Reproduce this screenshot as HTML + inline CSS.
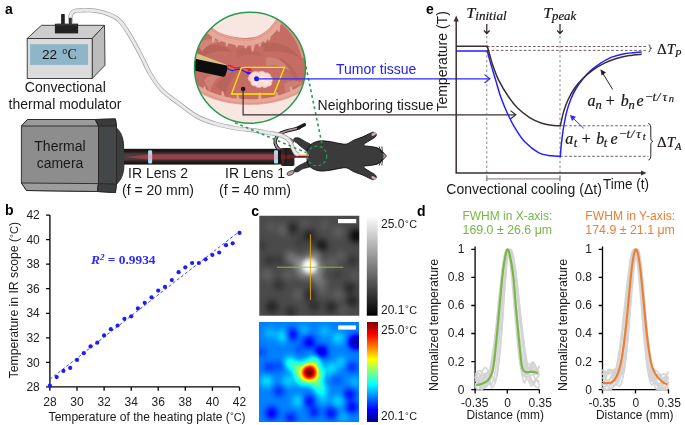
<!DOCTYPE html>
<html><head><meta charset="utf-8"><title>Figure</title>
<style>
html,body{margin:0;padding:0;background:#fff;}
body{width:685px;height:425px;overflow:hidden;}
svg{display:block;}
text{font-family:'Liberation Sans',sans-serif;}
text.sf, .sf{font-family:'Liberation Serif',serif;}
</style></head><body>
<svg width="685" height="425" viewBox="0 0 685 425">
<rect width="685" height="425" fill="#fff"/>
<g id="panelA">
<text x="5" y="13.8" font-size="14" text-anchor="start" fill="#000" font-weight="bold">a</text>
<polygon points="27.2,38.5 41.4,25.3 104.5,25.3 92.2,38.5" fill="#cdcdcd" stroke="#333" stroke-width="0.9" stroke-linejoin="round"/>
<polygon points="92.2,38.5 104.5,25.3 105,65.3 92.2,78.5" fill="#bcbcbc" stroke="#333" stroke-width="0.9" stroke-linejoin="round"/>
<rect x="27.2" y="38.5" width="65" height="40" fill="#dbdbdb" stroke="#333" stroke-width="0.9"/>
<rect x="30.1" y="44.2" width="58" height="20.7" fill="#8fb5c9"/>
<text x="42" y="58.7" font-size="13.6" fill="#111">22<tspan class="sf" font-size="14" x="62">°C</tspan></text>
<text x="65.3" y="91.6" font-size="14" text-anchor="middle" fill="#1a1a1a">Convectional</text>
<text x="65" y="108.5" font-size="14" text-anchor="middle" fill="#1a1a1a">thermal modulator</text>
<polygon points="21.4,126 27.5,119.5 95.3,119.5 98.5,126 98.5,183.6 97.4,191.5 26.5,190.5 21.4,183" fill="#8d8d8d" stroke="#2a2424" stroke-width="0.9" stroke-linejoin="round"/>
<polygon points="21.4,126 27.5,119.5 95.3,119.5 98.5,126" fill="#9b9b9b" stroke="#2a2424" stroke-width="0.9" stroke-linejoin="round"/>
<polygon points="21.4,183 26.5,190.5 97.4,191.5 98.5,183.6" fill="#9d9d9d" stroke="#2a2424" stroke-width="0.9" stroke-linejoin="round"/>
<path d="M116.5,128 C121,132 123.4,138 123.6,146 L123.9,166 C123.8,174 121,180 116.5,184.2 Z" fill="#3a3e3e" stroke="#2a2424" stroke-width="0.9" stroke-linejoin="round"/>
<polygon points="95.3,119.5 115.4,118.9 116.5,126 116.5,184.1 115.4,192.6 97.4,191.5 98.5,183.6 98.5,126" fill="#434747" stroke="#2a2424" stroke-width="0.9" stroke-linejoin="round"/>
<polygon points="95.3,119.5 115.4,118.9 116.5,126 98.5,126" fill="#383c3c" stroke="#2a2424" stroke-width="0.9" stroke-linejoin="round"/>
<polygon points="98.5,183.6 116.5,184.1 115.4,192.6 97.4,191.5" fill="#3b3f3f" stroke="#2a2424" stroke-width="0.9" stroke-linejoin="round"/>
<text x="60" y="150.5" font-size="14" text-anchor="middle" fill="#1a1a1a">Thermal</text>
<text x="60" y="167.5" font-size="14" text-anchor="middle" fill="#1a1a1a">camera</text>
<defs><linearGradient id="tubeg" x1="0" y1="0" x2="0" y2="1"><stop offset="0" stop-color="#1c1212"/><stop offset="0.16" stop-color="#231818"/><stop offset="0.34" stop-color="#4a3c3c"/><stop offset="0.5" stop-color="#4a3c3c"/><stop offset="0.66" stop-color="#4a3c3c"/><stop offset="0.84" stop-color="#231818"/><stop offset="1" stop-color="#1c1212"/></linearGradient></defs>
<rect x="124" y="148.8" width="154" height="15.8" fill="url(#tubeg)"/>
<polygon points="125.5,156.9 148,154.5 148,159.4 " fill="#96404a"/>
<rect x="148" y="154.4" width="130" height="5" fill="#96404a"/>
<rect x="148.1" y="150.3" width="4" height="13.3" rx="1.3" fill="#a9dcf2"/>
<rect x="148.1" y="154.4" width="4" height="5" fill="#dcb4c2"/>
<rect x="274" y="150.3" width="4.3" height="13.3" rx="1.3" fill="#a9dcf2"/>
<rect x="274" y="154.4" width="4.3" height="5" fill="#dcb4c2"/>
<path d="M288.9,151.8 C287.6,151.6 283.3,151.5 281.3,150.6 C279.2,149.8 277.6,148.2 276.5,146.5 C275.5,144.8 274.8,142.4 275.2,140.4 C275.6,138.4 277.0,135.9 279.0,134.3 C281.0,132.7 284.1,131.9 287.0,130.9 C289.9,130.0 293.6,129.6 296.5,128.6 C299.4,127.6 303.1,125.5 304.4,124.8" fill="none" stroke="#1c1c1c" stroke-width="3.4" stroke-linecap="round"/>
<path d="M288.9,151.8 C287.6,151.6 283.3,151.5 281.3,150.6 C279.2,149.8 277.6,148.2 276.5,146.5 C275.5,144.8 274.8,142.4 275.2,140.4 C275.6,138.4 277.0,135.9 279.0,134.3 C281.0,132.7 284.1,131.9 287.0,130.9 C289.9,130.0 294.9,129.0 296.5,128.6" fill="none" stroke="#a9959a" stroke-width="1.5" stroke-linecap="round"/>
<polygon points="296.5,127.5 304.4,124.5 299.3,129.8" fill="#1c1c1c"/>
<path d="M311.5,145.4 C310.8,143.7 307.0,142.6 305.0,141.4 C302.9,140.1 300.8,138.7 299.1,138.1 C297.5,137.6 296.1,137.5 295.2,137.8 C294.3,138.2 293.3,139.2 293.7,140.2 C294.1,141.2 296.2,142.4 297.7,143.7 C299.2,145.0 300.8,146.7 302.8,148.1 C304.7,149.5 307.9,152.4 309.3,152.0 C310.8,151.6 312.3,147.2 311.5,145.4 Z" fill="#3a3a3a" stroke="#111" stroke-width="0.7"/>
<ellipse cx="290.4" cy="140.6" rx="3.6" ry="1.9" transform="rotate(28 290.4 140.6)" fill="#b5a2a6" stroke="#222" stroke-width="0.7"/>
<path d="M310.1,160.0 C309.1,159.4 307.4,161.4 305.7,162.2 C304.0,163.1 301.7,164.1 299.9,165.1 C298.0,166.2 295.7,167.7 294.7,168.8 C293.8,169.8 293.8,170.9 294.3,171.4 C294.8,171.9 296.3,172.2 297.7,171.7 C299.1,171.3 300.5,169.8 302.8,168.8 C305.1,167.8 310.3,167.3 311.5,165.9 C312.7,164.4 311.0,160.6 310.1,160.0 Z" fill="#3a3a3a" stroke="#111" stroke-width="0.7"/>
<ellipse cx="290.6" cy="173" rx="3.8" ry="2" transform="rotate(-24 290.6 173)" fill="#b5a2a6" stroke="#222" stroke-width="0.7"/>
<path d="M307.3,155.0 C307.3,153.1 306.7,152.0 307.3,150.3 C307.8,148.5 308.7,146.1 310.7,144.6 C312.7,143.0 315.9,141.4 319.2,141.0 C322.6,140.5 327.1,141.3 330.6,141.7 C334.1,142.2 337.4,143.2 340.1,143.6 C342.8,144.0 344.5,144.5 346.7,144.0 C349.0,143.5 350.7,141.6 353.4,140.4 C356.1,139.2 360.2,137.9 362.9,136.8 C365.6,135.6 367.8,134.3 369.5,133.6 C371.3,132.8 372.2,132.2 373.3,132.2 C374.4,132.3 375.8,133.1 376.2,133.9 C376.5,134.7 376.2,136.0 375.2,137.0 C374.3,138.0 372.2,138.9 370.5,140.0 C368.7,141.1 365.8,142.7 364.8,143.6 C363.7,144.6 363.1,145.2 364.0,145.7 C365.0,146.2 368.4,146.1 370.5,146.5 C372.6,146.8 375.0,147.1 376.5,147.6 C378.1,148.1 378.8,148.6 380.0,149.5 C381.2,150.4 382.7,152.0 383.7,153.1 C384.8,154.2 386.2,155.0 386.2,156.0 C386.2,156.9 384.8,157.7 383.7,158.8 C382.7,159.9 381.2,161.5 380.0,162.4 C378.8,163.3 378.1,163.8 376.5,164.3 C375.0,164.8 372.6,165.1 370.5,165.4 C368.4,165.8 365.0,165.7 364.0,166.2 C363.1,166.7 363.7,167.3 364.8,168.3 C365.8,169.2 368.7,170.8 370.5,171.9 C372.2,173.0 374.3,173.9 375.2,174.9 C376.2,175.9 376.5,177.2 376.2,178.0 C375.8,178.8 374.4,179.6 373.3,179.7 C372.2,179.7 371.3,179.1 369.5,178.3 C367.8,177.6 365.6,176.3 362.9,175.1 C360.2,174.0 356.1,172.7 353.4,171.5 C350.7,170.3 349.0,168.4 346.7,167.9 C344.5,167.4 342.8,167.9 340.1,168.3 C337.4,168.7 334.1,169.7 330.6,170.2 C327.1,170.6 322.6,171.4 319.2,170.9 C315.9,170.5 312.7,168.9 310.7,167.3 C308.7,165.8 307.8,163.7 307.3,161.6 C306.7,159.6 307.3,156.9 307.3,155.0 Z" fill="#3b3b3b" stroke="#0c0c0c" stroke-width="0.9" stroke-linejoin="round"/>
<ellipse cx="373.8" cy="134" rx="2.7" ry="1.5" transform="rotate(-30 373.8 134)" fill="#d2a9b0"/>
<ellipse cx="373.8" cy="178" rx="2.7" ry="1.5" transform="rotate(30 373.8 178)" fill="#d2a9b0"/>
<path d="M382.8,153.4 C384.6,154.2 385.7,155.2 385.9,156 C385.7,156.8 384.6,157.8 382.8,158.6 C383.8,157 383.8,155 382.8,153.4 Z" fill="#c79aa2"/>
<path d="M379,146.4 L382,153 M381.8,146.4 L382.6,152.6 M379,165.6 L382,159 M381.8,165.6 L382.6,159.4" stroke="#111" stroke-width="0.8" fill="none"/>
<path d="M375.6,147.8 C377.6,147.6 379,149 378.6,150.6 M375.6,164.2 C377.6,164.4 379,163 378.6,161.4" stroke="#111" stroke-width="0.6" fill="none"/>
<rect x="278" y="149.4" width="4" height="15" fill="#1e1414"/>
<rect x="294" y="155.4" width="15.6" height="2.4" fill="#7a1c22"/>
<rect x="298" y="154.4" width="11" height="1.3" fill="#dcc878"/>
<rect x="281" y="148" width="13.4" height="17.9" rx="1.3" fill="#2c2020"/>
<polygon points="281,154.2 294.4,155.2 294.4,158 281,159.8" fill="#6e2226"/>
<rect x="282.4" y="148" width="0.9" height="17.9" fill="#4a3838"/>
<rect x="285.6" y="148" width="0.7" height="17.9" fill="#1a1010"/>
<path d="M70.5,23.0 C70.5,21.7 70.2,17.0 70.8,15.0 C71.4,13.0 72.1,12.0 74.0,11.2 C75.9,10.4 78.5,10.5 82.0,10.4 C85.5,10.3 90.3,9.9 95.0,10.6 C99.7,11.3 105.9,13.0 110.0,14.7 C114.1,16.4 116.3,17.5 119.4,20.6 C122.5,23.7 125.3,27.8 128.8,33.5 C132.3,39.2 137.1,48.0 140.6,54.7 C144.1,61.4 146.5,67.6 150.0,73.5 C153.5,79.4 157.1,85.1 161.8,90.0 C166.5,94.9 172.3,98.6 178.2,103.0 C184.1,107.4 190.9,113.1 197.0,116.5 C203.1,119.9 208.8,121.6 215.0,123.5 C221.2,125.4 227.9,126.8 234.5,128.0 C241.1,129.2 248.8,129.7 254.6,130.5 C260.4,131.3 265.1,132.3 269.2,133.0 C273.3,133.7 276.5,134.1 279.4,134.9 C282.3,135.8 284.9,136.8 286.7,138.1 C288.5,139.4 289.4,140.9 290.4,142.5 C291.4,144.1 291.8,145.9 292.6,147.6 C293.4,149.3 294.2,151.5 295.2,152.7 C296.2,153.9 297.9,154.5 298.4,154.9" fill="none" stroke="#a2a2a2" stroke-width="4.3" stroke-linecap="butt"/>
<path d="M70.5,23.0 C70.5,21.7 70.2,17.0 70.8,15.0 C71.4,13.0 72.1,12.0 74.0,11.2 C75.9,10.4 78.5,10.5 82.0,10.4 C85.5,10.3 90.3,9.9 95.0,10.6 C99.7,11.3 105.9,13.0 110.0,14.7 C114.1,16.4 116.3,17.5 119.4,20.6 C122.5,23.7 125.3,27.8 128.8,33.5 C132.3,39.2 137.1,48.0 140.6,54.7 C144.1,61.4 146.5,67.6 150.0,73.5 C153.5,79.4 157.1,85.1 161.8,90.0 C166.5,94.9 172.3,98.6 178.2,103.0 C184.1,107.4 190.9,113.1 197.0,116.5 C203.1,119.9 208.8,121.6 215.0,123.5 C221.2,125.4 227.9,126.8 234.5,128.0 C241.1,129.2 248.8,129.7 254.6,130.5 C260.4,131.3 265.1,132.3 269.2,133.0 C273.3,133.7 276.5,134.1 279.4,134.9 C282.3,135.8 284.9,136.8 286.7,138.1 C288.5,139.4 289.4,140.9 290.4,142.5 C291.4,144.1 291.8,145.9 292.6,147.6 C293.4,149.3 294.2,151.5 295.2,152.7 C296.2,153.9 297.9,154.5 298.4,154.9" fill="none" stroke="#e9e9e9" stroke-width="2.9" stroke-linecap="butt"/>
<rect x="61.1" y="14" width="3.7" height="11" rx="0.6" fill="#222"/>
<rect x="69" y="17.8" width="2.8" height="7" fill="#333"/>
<rect x="54.9" y="23.8" width="23.2" height="9.6" fill="#222"/>
<polygon points="54.9,25.6 57,23.8 78.1,23.8 76.4,25.6" fill="#383838"/>
<clipPath id="cclip"><circle cx="250" cy="67.7" r="55.5"/></clipPath>
<g clip-path="url(#cclip)">
<rect x="190" y="8" width="125" height="120" fill="#c56d62"/>
<path d="M196,50 C210,42 224,44 232,52 C224,50 212,50 200,58 Z" fill="#b8625a"/>
<path d="M215,86 C222,76 232,70 240,70 C233,76 228,84 226,94 Z" fill="#b9645b"/>
<path d="M262,44 C276,40 292,46 300,58 C290,52 276,50 264,52 Z" fill="#b9645b"/>
<path d="M280,58 C290,62 298,72 300,84 C294,76 286,70 278,66 Z" fill="#bb665d"/>
<path d="M236,50 C246,46 256,48 262,56 C254,54 244,54 238,58 Z" fill="#bc675e"/>
<path d="M198,44 C204,38 214,38 220,42 C212,42 206,46 202,52 Z" fill="#d38479"/>
<path d="M266,58 C276,56 286,62 290,72 C284,66 274,64 266,66 Z" fill="#d08176"/>
<path d="M204,80 C210,74 218,72 224,74 C216,78 212,84 210,92 Z" fill="#d08176"/>
<path d="M284,84 C290,80 298,80 304,84 C298,84 290,88 286,94 Z" fill="#cf8075"/>
<path d="M209,30 C217,37 231,41.8 245,42.3 C259,42.8 270,36 279.5,20.5" fill="none" stroke="#e6a698" stroke-width="7"/>
<path d="M212.6,36 l0.4,6 l1.6,-4.6 M219,38.5 l0.4,3 l1.4,-2 M226.2,41 l0.5,4.6 l1.5,-3.6 M236,44 l0.4,2.6 l1.4,-2.4 M245,44.5 l0.6,3.2 l1.4,-3.2 M251.8,44.5 l0.8,6.5 l1.5,-7 M259,43.4 l0.6,2.4 l1.2,-3 M264.6,40 l0.6,2 l1.2,-3 M268.2,38 l0.8,1.8 l1,-3 M277.4,28 l1.6,3 l0.4,-5" fill="none" stroke="#e6a698" stroke-width="1.7" stroke-linejoin="round"/>
<path d="M190,0 L211.5,27 C218,33.5 231,37.6 245,38 C258,38.4 268,32.5 276.6,18.5 L290,0 Z" fill="#f8e6e0"/>
<path d="M210.3,28.6 C217.5,35.4 231,39.8 245,40.2 C258.5,40.6 269,34.4 278.2,19.6" fill="none" stroke="#d98c80" stroke-width="0.7"/>
<path d="M281,22 C292,30 300,44 303,58" fill="none" stroke="#dd9489" stroke-width="2.2"/>
<path d="M190,83 C205,96.5 228,102.4 250,102.4 C272,102.4 294,96.5 312,81" fill="none" stroke="#e6a698" stroke-width="6.4"/>
<path d="M204,91.5 l0.4,-4.5 l1.6,4.8 M222,97.5 l0.6,-5.6 l1.5,5.6 M237,99.8 l0.6,-4.6 l1.4,4.6 M259,99.8 l0.6,-6.6 l1.4,6.6 M276,97.5 l0.4,-4.6 l1.6,4 M291,92 l-0.4,-4.6 l2,3.6" fill="none" stroke="#e6a698" stroke-width="1.6" stroke-linejoin="round"/>
<path d="M188,85 C205,99.3 228,105 250,105 C272,105 296,99.3 314,83 L314,130 L188,130 Z" fill="#f8e6e0"/>
<path d="M190,84 C206,97.6 228,103.4 250,103.4 C272,103.4 295,97.6 312,82" fill="none" stroke="#d98c80" stroke-width="0.7"/>
<polygon points="193,52 198.5,54 226,64.4 226,66 195,60" fill="#d9c283"/>
<path d="M192,58.2 L225.6,65.3 C227.6,66 227.8,68 227.2,70 L225.6,75 C225,76.6 223.6,77 222,76.6 L192,70 Z" fill="#0d0d0d"/>
<path d="M227.6,66.2 C229.5,64.4 231.5,66.6 234,67.6 C237.5,69 240,66.4 243.5,67.2 C246.5,68 248,69.4 250.5,70" fill="none" stroke="#ee1c1c" stroke-width="1.2"/>
<polygon points="249,67.2 252.4,70.6 248,71.4" fill="#ee1c1c"/>
<path d="M227.6,68.4 C230,70.6 232.5,71.2 235.5,69.8 C239,68.2 242,69.6 244.6,71.6 C246.4,73 248,73.2 250,73.2" fill="none" stroke="#1d1dff" stroke-width="1.2"/>
<polygon points="247.4,71.4 250.8,72.2 250,74.6 246.8,74.2" fill="#1d1dff"/>
<path d="M251,74 C252.5,71.5 256,71 258.5,72.2 C260.5,70.8 264,71 265.5,73 C268,72.4 270.6,74 270.6,76.4 C273,77.4 273.4,80.4 271.6,82 C272.6,84.4 270.4,86.6 268,86 C266.6,88 263.4,88 262,86.4 C260,88.2 256.4,88 255.4,85.8 C252.6,86.4 250.4,84.4 251,82 C248.4,81 247.4,78 249,76.2 C249.2,75 250,74.2 251,74 Z" fill="#fbdad6" stroke="#f0b5ae" stroke-width="0.8"/>
<circle cx="262" cy="79" r="2.6" fill="#fdeeee"/><circle cx="256" cy="83" r="2" fill="#fdeeee"/><circle cx="266.5" cy="82.5" r="2" fill="#fdecea"/>
</g>
<circle cx="250" cy="67.7" r="55.5" fill="none" stroke="#2a9a52" stroke-width="1.5"/>
<polygon points="241.5,67.3 284.5,67.3 274,94 231.5,94" fill="none" stroke="#ffe800" stroke-width="1.3" stroke-linejoin="miter"/>
<path d="M235,122.8 L306,152.5" fill="none" stroke="#2a9a52" stroke-width="1.6" stroke-dasharray="2.8,3"/>
<path d="M304.8,61 L322.5,146.5" fill="none" stroke="#2a9a52" stroke-width="1.6" stroke-dasharray="2.8,3"/>
<circle cx="317" cy="156" r="9.8" fill="none" stroke="#2a9a52" stroke-width="1.2" stroke-dasharray="3,2.4"/>
<circle cx="256.5" cy="78.8" r="2.5" fill="#1515ff"/>
<path d="M256.5,78.8 L489.5,78.8" stroke="#2a2aff" stroke-width="1.2" fill="none"/>
<path d="M484.5,74.6 L489.8,78.8 L484.5,83" stroke="#2a2aff" stroke-width="1.2" fill="none"/>
<circle cx="243.1" cy="89" r="2.3" fill="#1a1212"/>
<path d="M243.1,89 L243.1,114.8 L515.5,114.8" stroke="#3a3030" stroke-width="1.2" fill="none"/>
<path d="M510.5,110.6 L515.8,114.8 L510.5,119" stroke="#3a3030" stroke-width="1.2" fill="none"/>
<text x="336" y="73.8" font-size="14" text-anchor="start" fill="#2222ee">Tumor tissue</text>
<text x="317.6" y="109.8" font-size="14" text-anchor="start" fill="#1a1a1a">Neighboring tissue</text>
<text x="128" y="177.5" font-size="14" text-anchor="start" fill="#1a1a1a">IR Lens 2</text>
<text x="122" y="194.5" font-size="14" text-anchor="start" fill="#1a1a1a">(f = 20 mm)</text>
<text x="225" y="177.5" font-size="14" text-anchor="start" fill="#1a1a1a">IR Lens 1</text>
<text x="219" y="194.5" font-size="14" text-anchor="start" fill="#1a1a1a">(f = 40 mm)</text>
</g>
<g id="panelE">
<text x="426" y="13.7" font-size="14" text-anchor="start" fill="#000" font-weight="bold">e</text>
<path d="M486.8,36 L486.8,181 M560,36 L560,181" stroke="#807878" stroke-width="0.9" stroke-dasharray="2.4,2.4" fill="none"/>
<path d="M487,46.5 L646,46.5 M487,50.4 L646,50.4 M560,125.8 L648.4,125.8 M560,156.3 L648.4,156.3" stroke="#655858" stroke-width="0.95" stroke-dasharray="2.7,1.9" fill="none"/>
<path d="M456.2,20 L456.2,173 L641,173" stroke="#3a3030" stroke-width="1.5" fill="none"/>
<polygon points="453.6,21.6 456.2,15.6 458.8,21.6" fill="#3a3030"/>
<polygon points="641,170.5 646.5,173 641,175.5" fill="#3a3030"/>
<path d="M456.2,50.9 L487.3,50.9 L487.3,50.9 C487.6,52.0 488.3,55.0 489.0,57.5 C489.7,60.0 490.2,61.7 491.3,65.6 C492.4,69.5 494.4,75.8 495.9,80.9 C497.4,86.0 498.7,91.1 500.5,96.2 C502.3,101.3 504.3,106.4 506.6,111.5 C508.9,116.6 511.2,121.7 514.3,126.8 C517.4,131.9 520.9,137.8 525.0,142.1 C529.1,146.4 534.5,150.5 538.8,152.8 C543.1,155.1 547.4,155.2 551.0,155.8 C554.6,156.4 558.8,156.3 560.3,156.4 L560.3,156.4 C560.5,154.0 561.0,146.8 561.6,141.9 C562.2,137.0 562.8,131.8 563.7,126.7 C564.6,121.6 565.6,116.0 566.8,111.4 C568.0,106.8 569.3,103.0 570.8,99.2 C572.3,95.4 574.0,91.9 576.0,88.5 C578.0,85.1 580.5,81.8 583.0,78.7 C585.5,75.6 588.3,72.7 591.2,70.1 C594.1,67.5 597.1,65.4 600.4,63.3 C603.7,61.2 607.3,58.9 611.1,57.4 C614.9,55.9 618.2,54.9 623.3,54.0 C628.4,53.1 638.6,52.4 641.7,52.1" stroke="#2222ff" stroke-width="1.5" fill="none" stroke-linejoin="miter"/>
<path d="M456.2,46.3 L487.3,46.3 L487.3,46.3 C487.7,47.7 488.7,51.3 489.6,54.5 C490.5,57.7 491.3,61.2 492.9,65.6 C494.5,70.0 496.4,75.8 499.0,80.9 C501.6,86.0 505.1,91.7 508.2,96.2 C511.2,100.7 513.7,104.2 517.3,107.8 C520.9,111.4 525.5,115.0 529.6,117.6 C533.7,120.2 537.7,121.9 541.8,123.2 C545.9,124.5 550.9,125.1 554.0,125.5 C557.1,125.9 559.2,125.8 560.3,125.8 L560.3,125.8 C560.9,123.4 562.4,115.8 563.7,111.4 C565.0,107.0 566.5,103.0 568.3,99.2 C570.1,95.4 572.1,91.8 574.4,88.5 C576.7,85.2 579.0,82.4 582.1,79.3 C585.2,76.2 589.0,72.8 592.8,70.1 C596.6,67.4 600.9,64.9 605.0,62.9 C609.1,60.9 613.1,59.4 617.2,58.2 C621.3,57.0 625.3,56.2 629.4,55.6 C633.5,55.0 639.7,54.5 641.7,54.3" stroke="#3a2e2e" stroke-width="1.5" fill="none" stroke-linejoin="miter"/>
<path d="M486.8,176.6 L486.8,181 M486.8,178.9 L560,178.9 M560,176.6 L560,181" stroke="#7a7070" stroke-width="1" fill="none"/>
<path d="M486.8,24 L486.8,33.5 M484.0,30.5 L486.8,33.5 L489.6,30.5" stroke="#2a2020" stroke-width="1.2" fill="none"/>
<path d="M560,24 L560,33.5 M557.2,30.5 L560,33.5 L562.8,30.5" stroke="#2a2020" stroke-width="1.2" fill="none"/>
<path d="M612.6,89.4 L602,72" stroke="#2a2020" stroke-width="1" fill="none"/><polygon points="600.4,69.2 606,72.6 601.6,75.4" fill="#2a2020"/>
<path d="M583.6,128.2 L571.6,116.8" stroke="#2a2aff" stroke-width="1" fill="none"/><polygon points="569.9,115 576,116.8 572,121" fill="#2a2aff"/>
<path d="M648.6,44.8 C650.3,45 650,46.4 650,47.2 C650,48 650.6,48.3 651.5,48.3 C650.6,48.3 650,48.7 650,49.4 C650,50.2 650.3,51.6 648.6,51.8" stroke="#2a2020" stroke-width="0.9" fill="none"/>
<path d="M648.4,123.5 C650.6,124 650.8,126 650.8,129 L650.8,137.5 C650.8,140 651.4,141.2 653,141.4 C651.4,141.6 650.8,143 650.8,145.5 L650.8,154.5 C650.8,157.5 650.6,159.4 648.4,160" stroke="#2a2020" stroke-width="1" fill="none"/>
<text x="466.2" y="17.8" font-size="15.5" class="sf" font-style="italic" fill="#1a1414" stroke="#1a1414" stroke-width="0.2" textLength="40.4" lengthAdjust="spacingAndGlyphs">T<tspan font-size="12.5" dy="2.6">initial</tspan></text>
<text x="543.2" y="17.8" font-size="15.5" class="sf" font-style="italic" fill="#1a1414" stroke="#1a1414" stroke-width="0.2" textLength="33" lengthAdjust="spacingAndGlyphs">T<tspan font-size="12.5" dy="2.6">peak</tspan></text>
<text x="657" y="54" font-size="15" class="sf" font-style="italic" fill="#1a1414" stroke="#1a1414" stroke-width="0.2"><tspan font-style="normal">Δ</tspan>T<tspan font-size="10.5" dy="3">P</tspan></text>
<text x="657" y="146.5" font-size="15" class="sf" font-style="italic" fill="#1a1414" stroke="#1a1414" stroke-width="0.2"><tspan font-style="normal">Δ</tspan>T<tspan font-size="10.5" dy="3">A</tspan></text>
<text class="sf" font-style="italic" fill="#1a1414" stroke="#1a1414" stroke-width="0.2"><tspan x="587.6" y="106.4" font-size="16">a</tspan><tspan x="595.4" y="109.2" font-size="12.5">n</tspan><tspan x="604.8" y="106.4" font-size="16">+</tspan><tspan x="620.8" y="106.4" font-size="16">b</tspan><tspan x="628.4" y="109.2" font-size="12.5">n</tspan><tspan x="636.4" y="106.4" font-size="16">e</tspan><tspan x="644.4" y="100.80000000000001" font-size="13">−</tspan><tspan x="652.4" y="100.80000000000001" font-size="13">t</tspan><tspan x="656.8" y="100.80000000000001" font-size="13">/</tspan><tspan x="662.4" y="100.80000000000001" font-size="13">τ</tspan><tspan x="668.8" y="102.4" font-size="10.5">n</tspan></text>
<text class="sf" font-style="italic" fill="#1a1414" stroke="#1a1414" stroke-width="0.2"><tspan x="565.3" y="143.7" font-size="16">a</tspan><tspan x="573.7" y="146.5" font-size="12.5">t</tspan><tspan x="580.7" y="143.7" font-size="16">+</tspan><tspan x="596.3" y="143.7" font-size="16">b</tspan><tspan x="603.8" y="146.5" font-size="12.5">t</tspan><tspan x="610.4" y="143.7" font-size="16">e</tspan><tspan x="618.4" y="138.1" font-size="13">−</tspan><tspan x="626.4" y="138.1" font-size="13">t</tspan><tspan x="630.8" y="138.1" font-size="13">/</tspan><tspan x="636.2" y="138.1" font-size="13">τ</tspan><tspan x="642.8" y="139.7" font-size="10.5">t</tspan></text>
<text transform="translate(447.3,61.4) rotate(-90)" font-size="14.2" text-anchor="middle" fill="#1a1a1a" textLength="100.4" lengthAdjust="spacingAndGlyphs">Temperature (T)</text>
<text x="446.3" y="194" font-size="14" text-anchor="start" fill="#1a1a1a" textLength="155.5" lengthAdjust="spacingAndGlyphs">Convectional cooling (Δt)</text>
<text x="603" y="189" font-size="14.2" text-anchor="start" fill="#1a1a1a" textLength="46" lengthAdjust="spacingAndGlyphs">Time (t)</text>
</g>
<g id="panelB">
<text x="5" y="215.4" font-size="14" text-anchor="start" fill="#000" font-weight="bold">b</text>
<path d="M49.9,215.1 L49.9,386.9 L239.5,386.9 M46.1,386.9 L49.9,386.9 M49.9,386.9 L49.9,390.7 M46.1,362.4 L49.9,362.4 M77.0,386.9 L77.0,390.7 M46.1,337.8 L49.9,337.8 M104.1,386.9 L104.1,390.7 M46.1,313.3 L49.9,313.3 M131.2,386.9 L131.2,390.7 M46.1,288.7 L49.9,288.7 M158.2,386.9 L158.2,390.7 M46.1,264.2 L49.9,264.2 M185.3,386.9 L185.3,390.7 M46.1,239.6 L49.9,239.6 M212.4,386.9 L212.4,390.7 M46.1,215.1 L49.9,215.1 M239.5,386.9 L239.5,390.7" stroke="#000" stroke-width="1.3" fill="none"/>
<text x="39.8" y="391.0" font-size="12" text-anchor="end" fill="#222">28</text>
<text x="49.9" y="405.5" font-size="12" text-anchor="middle" fill="#222">28</text>
<text x="39.8" y="366.5" font-size="12" text-anchor="end" fill="#222">30</text>
<text x="77.0" y="405.5" font-size="12" text-anchor="middle" fill="#222">30</text>
<text x="39.8" y="341.9" font-size="12" text-anchor="end" fill="#222">32</text>
<text x="104.1" y="405.5" font-size="12" text-anchor="middle" fill="#222">32</text>
<text x="39.8" y="317.4" font-size="12" text-anchor="end" fill="#222">34</text>
<text x="131.2" y="405.5" font-size="12" text-anchor="middle" fill="#222">34</text>
<text x="39.8" y="292.8" font-size="12" text-anchor="end" fill="#222">36</text>
<text x="158.2" y="405.5" font-size="12" text-anchor="middle" fill="#222">36</text>
<text x="39.8" y="268.3" font-size="12" text-anchor="end" fill="#222">38</text>
<text x="185.3" y="405.5" font-size="12" text-anchor="middle" fill="#222">38</text>
<text x="39.8" y="243.7" font-size="12" text-anchor="end" fill="#222">40</text>
<text x="212.4" y="405.5" font-size="12" text-anchor="middle" fill="#222">40</text>
<text x="39.8" y="219.2" font-size="12" text-anchor="end" fill="#222">42</text>
<text x="239.5" y="405.5" font-size="12" text-anchor="middle" fill="#222">42</text>
<path d="M49.9,379.3 L239.5,231.3" stroke="#3030ff" stroke-width="0.9" stroke-dasharray="3,2.2" fill="none"/>
<circle cx="49.9" cy="385.7" r="2.1" fill="#1c1cff"/>
<circle cx="56.7" cy="377.1" r="2.1" fill="#1c1cff"/>
<circle cx="63.4" cy="370.9" r="2.1" fill="#1c1cff"/>
<circle cx="70.2" cy="367.9" r="2.1" fill="#1c1cff"/>
<circle cx="77.0" cy="359.9" r="2.1" fill="#1c1cff"/>
<circle cx="83.8" cy="353.2" r="2.1" fill="#1c1cff"/>
<circle cx="90.5" cy="346.4" r="2.1" fill="#1c1cff"/>
<circle cx="97.3" cy="342.7" r="2.1" fill="#1c1cff"/>
<circle cx="104.1" cy="335.4" r="2.1" fill="#1c1cff"/>
<circle cx="110.8" cy="329.2" r="2.1" fill="#1c1cff"/>
<circle cx="117.6" cy="325.5" r="2.1" fill="#1c1cff"/>
<circle cx="124.4" cy="318.8" r="2.1" fill="#1c1cff"/>
<circle cx="131.2" cy="316.3" r="2.1" fill="#1c1cff"/>
<circle cx="137.9" cy="308.4" r="2.1" fill="#1c1cff"/>
<circle cx="144.7" cy="302.8" r="2.1" fill="#1c1cff"/>
<circle cx="151.5" cy="297.3" r="2.1" fill="#1c1cff"/>
<circle cx="158.2" cy="290.6" r="2.1" fill="#1c1cff"/>
<circle cx="165.0" cy="286.9" r="2.1" fill="#1c1cff"/>
<circle cx="171.8" cy="280.1" r="2.1" fill="#1c1cff"/>
<circle cx="178.6" cy="272.2" r="2.1" fill="#1c1cff"/>
<circle cx="185.3" cy="267.3" r="2.1" fill="#1c1cff"/>
<circle cx="192.1" cy="263.0" r="2.1" fill="#1c1cff"/>
<circle cx="198.9" cy="263.0" r="2.1" fill="#1c1cff"/>
<circle cx="205.6" cy="259.3" r="2.1" fill="#1c1cff"/>
<circle cx="212.4" cy="255.0" r="2.1" fill="#1c1cff"/>
<circle cx="219.2" cy="252.5" r="2.1" fill="#1c1cff"/>
<circle cx="226.0" cy="245.2" r="2.1" fill="#1c1cff"/>
<circle cx="232.7" cy="243.3" r="2.1" fill="#1c1cff"/>
<circle cx="239.5" cy="232.9" r="2.1" fill="#1c1cff"/>
<text x="91" y="264" font-size="12.5" class="sf" font-style="italic" font-weight="bold" fill="#2a2aff" textLength="64.5" lengthAdjust="spacingAndGlyphs">R<tspan font-size="8.5" dy="-4.5">2</tspan><tspan dy="4.5" font-style="normal"> = 0.9934</tspan></text>
<text transform="translate(18.4,300.2) rotate(-90)" font-size="12" text-anchor="middle" fill="#1a1a1a" textLength="156.4" lengthAdjust="spacingAndGlyphs">Temperature in IR scope (<tspan font-size="9.5" dy="-1.2">°</tspan><tspan font-size="10.8" dy="1.2">C</tspan>)</text>
<text x="48.6" y="420.6" font-size="12" fill="#1a1a1a" textLength="197" lengthAdjust="spacingAndGlyphs">Temperature of the heating plate (<tspan font-size="9.5" dy="-1.2">°</tspan><tspan font-size="10.8" dy="1.2">C</tspan>)</text>
</g>
<g id="panelC">
<text x="251.2" y="216" font-size="14" text-anchor="start" fill="#000" font-weight="bold">c</text>
<defs>
<filter id="blur" x="-20%" y="-20%" width="140%" height="140%" color-interpolation-filters="sRGB"><feGaussianBlur stdDeviation="3.2"/></filter>
<filter id="jet" x="0" y="0" width="100%" height="100%" color-interpolation-filters="sRGB">
<feComponentTransfer>
<feFuncR type="table" tableValues="0 0 0 0 0.5 1 1 1 0.5"/>
<feFuncG type="table" tableValues="0 0 0.5 1 1 1 0.5 0 0"/>
<feFuncB type="table" tableValues="0.53 1 1 1 0.5 0 0 0 0"/>
</feComponentTransfer></filter>
<filter id="gry" x="0" y="0" width="100%" height="100%" color-interpolation-filters="sRGB">
<feComponentTransfer>
<feFuncR type="table" tableValues="0.02 0.16 0.29 0.4 0.52 0.66 0.8 0.92 1"/>
<feFuncG type="table" tableValues="0.02 0.16 0.29 0.4 0.52 0.66 0.8 0.92 1"/>
<feFuncB type="table" tableValues="0.02 0.16 0.29 0.4 0.52 0.66 0.8 0.92 1"/>
</feComponentTransfer></filter>
<radialGradient id="hot" cx="50.4" cy="50.4" r="18" gradientUnits="userSpaceOnUse">
<stop offset="0" stop-color="#fff" stop-opacity="1"/>
<stop offset="0.14" stop-color="#fff" stop-opacity="1"/>
<stop offset="0.25" stop-color="#fff" stop-opacity="0.87"/>
<stop offset="0.333" stop-color="#fff" stop-opacity="0.72"/>
<stop offset="0.417" stop-color="#fff" stop-opacity="0.54"/>
<stop offset="0.5" stop-color="#fff" stop-opacity="0.36"/>
<stop offset="0.611" stop-color="#fff" stop-opacity="0.2"/>
<stop offset="0.722" stop-color="#fff" stop-opacity="0.11"/>
<stop offset="0.889" stop-color="#fff" stop-opacity="0.035"/>
<stop offset="1" stop-color="#fff" stop-opacity="0"/>
</radialGradient>
<clipPath id="sq"><rect x="0" y="0" width="100" height="100"/></clipPath>
<linearGradient id="gbar" x1="0" y1="0" x2="0" y2="1"><stop offset="0" stop-color="#fff"/><stop offset="1" stop-color="#000"/></linearGradient>
<linearGradient id="jbar" x1="0" y1="0" x2="0" y2="1">
<stop offset="0" stop-color="#800000"/><stop offset="0.125" stop-color="#ff0000"/><stop offset="0.375" stop-color="#ffff00"/><stop offset="0.625" stop-color="#00ffff"/><stop offset="0.875" stop-color="#0000ff"/><stop offset="1" stop-color="#000087"/></linearGradient>

<g id="field"><g filter="url(#blur)"><rect x="-20" y="-20" width="140" height="140" fill="#404040"/><circle cx="97" cy="20" r="7" fill="#000" fill-opacity="0.95"/><circle cx="50" cy="20" r="6" fill="#000" fill-opacity="0.6"/><circle cx="62" cy="30" r="6" fill="#000" fill-opacity="0.85"/><circle cx="33" cy="12.5" r="5.5" fill="#000" fill-opacity="0.6"/><circle cx="93" cy="45" r="5" fill="#000" fill-opacity="0.4"/><circle cx="90.7" cy="72" r="5.5" fill="#000" fill-opacity="0.55"/><circle cx="93" cy="85" r="5.5" fill="#000" fill-opacity="0.6"/><circle cx="50" cy="79" r="5.5" fill="#000" fill-opacity="0.55"/><circle cx="55" cy="90" r="5" fill="#000" fill-opacity="0.5"/><circle cx="72" cy="91" r="5.5" fill="#000" fill-opacity="0.55"/><circle cx="12.6" cy="91" r="6" fill="#000" fill-opacity="0.6"/><circle cx="31.5" cy="96" r="5" fill="#000" fill-opacity="0.5"/><circle cx="10" cy="45" r="5" fill="#000" fill-opacity="0.35"/><circle cx="21" cy="44" r="4.5" fill="#000" fill-opacity="0.3"/><circle cx="20" cy="69" r="5" fill="#000" fill-opacity="0.4"/><circle cx="3" cy="30" r="4" fill="#000" fill-opacity="0.3"/><circle cx="78" cy="58" r="4" fill="#000" fill-opacity="0.25"/><circle cx="40" cy="27" r="4" fill="#000" fill-opacity="0.25"/><circle cx="24" cy="14" r="6" fill="#fff" fill-opacity="0.15"/><circle cx="11" cy="11" r="5" fill="#fff" fill-opacity="0.1"/><circle cx="79" cy="16" r="6" fill="#fff" fill-opacity="0.13"/><circle cx="72" cy="46.6" r="6" fill="#fff" fill-opacity="0.14"/><circle cx="82" cy="40" r="5" fill="#fff" fill-opacity="0.12"/><circle cx="7.5" cy="59" r="6" fill="#fff" fill-opacity="0.14"/><circle cx="79" cy="79" r="6" fill="#fff" fill-opacity="0.12"/><circle cx="39" cy="79" r="6" fill="#fff" fill-opacity="0.12"/><circle cx="29" cy="59" r="6" fill="#fff" fill-opacity="0.12"/><circle cx="65.5" cy="9" r="5" fill="#fff" fill-opacity="0.1"/><circle cx="96" cy="60" r="5" fill="#fff" fill-opacity="0.09"/><circle cx="45" cy="8" r="5" fill="#fff" fill-opacity="0.08"/><circle cx="84" cy="95" r="5" fill="#fff" fill-opacity="0.08"/><circle cx="31" cy="41" r="6" fill="#fff" fill-opacity="0.22"/><circle cx="38" cy="46" r="6" fill="#fff" fill-opacity="0.24"/><circle cx="62" cy="68" r="6" fill="#fff" fill-opacity="0.2"/><circle cx="58" cy="61" r="6" fill="#fff" fill-opacity="0.24"/><circle cx="57" cy="37" r="5.5" fill="#fff" fill-opacity="0.18"/><circle cx="55" cy="43" r="5" fill="#fff" fill-opacity="0.16"/><circle cx="64" cy="77" r="5" fill="#fff" fill-opacity="0.1"/><circle cx="42" cy="58" r="6" fill="#fff" fill-opacity="0.16"/><circle cx="62" cy="52" r="5" fill="#fff" fill-opacity="0.14"/><circle cx="40" cy="52" r="5" fill="#fff" fill-opacity="0.12"/></g><circle cx="50.4" cy="50.4" r="18" fill="url(#hot)"/></g></defs>
<g transform="translate(259.3,215.8)" clip-path="url(#sq)"><g filter="url(#gry)"><use href="#field"/></g></g>
<g transform="translate(259,322)" clip-path="url(#sq)"><g filter="url(#jet)"><use href="#field"/></g></g>
<path d="M310.4,234.3 L310.4,300" stroke="#e8a800" stroke-width="0.9"/>
<path d="M277,267.2 L343.3,267.2" stroke="#8cc34a" stroke-width="0.9"/>
<rect x="338" y="219" width="18.2" height="4.2" fill="#fff"/>
<rect x="338.2" y="325.4" width="17.8" height="4.2" fill="#fff"/>
<rect x="366.8" y="215.8" width="10.8" height="99.9" fill="url(#gbar)"/>
<rect x="367" y="322" width="11" height="100" fill="url(#jbar)"/>
<text x="381" y="227.9" font-size="12" fill="#1a1a1a">25.0<tspan font-size="9.5" dy="-1.2" dx="0.7">°</tspan><tspan font-size="10.8" dy="1.2" dx="0.3">C</tspan></text>
<text x="381" y="313.6" font-size="12" fill="#1a1a1a">20.1<tspan font-size="9.5" dy="-1.2" dx="0.7">°</tspan><tspan font-size="10.8" dy="1.2" dx="0.3">C</tspan></text>
<text x="381" y="334" font-size="12" fill="#1a1a1a">25.0<tspan font-size="9.5" dy="-1.2" dx="0.7">°</tspan><tspan font-size="10.8" dy="1.2" dx="0.3">C</tspan></text>
<text x="381" y="419.7" font-size="12" fill="#1a1a1a">20.1<tspan font-size="9.5" dy="-1.2" dx="0.7">°</tspan><tspan font-size="10.8" dy="1.2" dx="0.3">C</tspan></text>
</g>
<g id="panelD">
<text x="417" y="215.6" font-size="14" text-anchor="start" fill="#000" font-weight="bold">d</text>
<path d="M475.1,246.6 L475.1,389.6 L539.4,389.6 M471.3,389.6 L475.1,389.6 M471.3,361.6 L475.1,361.6 M471.3,333.5 L475.1,333.5 M471.3,305.5 L475.1,305.5 M471.3,277.4 L475.1,277.4 M471.3,249.4 L475.1,249.4 M475.1,389.6 L475.1,393.40000000000003 M507.3,389.6 L507.3,393.40000000000003 M539.4,389.6 L539.4,393.40000000000003" stroke="#000" stroke-width="1.3" fill="none"/><path d="M475.2,384.2 L476.1,384.0 L477.0,383.6 L478.0,383.2 L478.9,382.7 L479.8,382.3 L480.7,381.9 L481.6,381.6 L482.5,381.4 L483.5,381.4 L484.4,381.6 L485.3,381.8 L486.2,382.2 L487.1,382.7 L488.0,383.2 L489.0,383.6 L489.9,384.0 L490.8,384.2 L491.7,384.3 L492.6,382.1 L493.5,379.2 L494.5,375.4 L495.4,370.7 L496.3,364.9 L497.2,357.9 L498.1,349.7 L499.0,340.3 L500.0,330.0 L500.9,318.8 L501.8,307.1 L502.7,295.3 L503.6,283.9 L504.5,273.4 L505.5,264.3 L506.4,257.1 L507.3,252.1 L508.2,249.6 L509.1,249.9 L510.1,252.8 L511.0,258.2 L511.9,265.8 L512.8,275.2 L513.7,285.9 L514.6,297.4 L515.6,309.1 L516.5,320.8 L517.4,331.8 L518.3,342.1 L519.2,351.2 L520.1,359.2 L521.1,366.0 L522.0,371.6 L522.9,375.3 L523.8,375.7 L524.7,376.2 L525.6,376.5 L526.6,376.6 L527.5,376.7 L528.4,376.5 L529.3,376.3 L530.2,375.9 L531.1,375.4 L532.1,375.0 L533.0,374.5 L533.9,374.1 L534.8,373.9 L535.7,373.7 L536.6,373.8 L537.6,374.0 L538.5,374.3 L539.4,374.7" stroke="#d4d4d4" stroke-width="1.7" fill="none" stroke-linejoin="round" stroke-opacity="0.92"/><path d="M475.2,386.8 L476.1,384.5 L477.0,382.5 L478.0,381.6 L478.9,382.2 L479.8,384.0 L480.7,386.3 L481.6,387.4 L482.5,386.7 L483.5,385.7 L484.4,384.5 L485.3,383.0 L486.2,381.2 L487.1,378.9 L488.0,376.2 L489.0,372.9 L489.9,369.1 L490.8,364.6 L491.7,359.5 L492.6,353.7 L493.5,347.3 L494.5,340.3 L495.4,332.7 L496.3,324.6 L497.2,316.1 L498.1,307.4 L499.0,298.7 L500.0,290.1 L500.9,281.8 L501.8,274.1 L502.7,267.1 L503.6,261.0 L504.5,256.1 L505.5,252.5 L506.4,250.2 L507.3,249.4 L508.2,250.1 L509.1,252.2 L510.1,255.7 L511.0,260.5 L511.9,266.5 L512.8,273.4 L513.7,281.1 L514.6,289.3 L515.6,297.9 L516.5,306.6 L517.4,315.3 L518.3,323.8 L519.2,332.0 L520.1,339.6 L521.1,346.7 L522.0,353.2 L522.9,359.0 L523.8,362.2 L524.7,363.5 L525.6,365.6 L526.6,367.9 L527.5,369.4 L528.4,369.5 L529.3,368.2 L530.2,366.0 L531.1,363.7 L532.1,362.3 L533.0,362.3 L533.9,363.7 L534.8,365.9 L535.7,368.1 L536.6,369.4 L537.6,369.4 L538.5,368.0 L539.4,365.8" stroke="#d4d4d4" stroke-width="1.7" fill="none" stroke-linejoin="round" stroke-opacity="0.92"/><path d="M475.2,373.6 L476.1,373.5 L477.0,375.0 L478.0,377.6 L478.9,380.3 L479.8,382.2 L480.7,382.7 L481.6,381.6 L482.5,379.2 L483.5,376.4 L484.4,374.2 L485.3,373.3 L486.2,374.1 L487.1,376.1 L488.0,378.9 L489.0,377.1 L489.9,373.6 L490.8,369.6 L491.7,364.7 L492.6,359.1 L493.5,352.7 L494.5,345.6 L495.4,337.7 L496.3,329.1 L497.2,320.1 L498.1,310.7 L499.0,301.1 L500.0,291.6 L500.9,282.5 L501.8,274.0 L502.7,266.4 L503.6,260.0 L504.5,254.9 L505.5,251.4 L506.4,249.6 L507.3,249.6 L508.2,251.3 L509.1,254.7 L510.1,259.7 L511.0,266.1 L511.9,273.7 L512.8,282.1 L513.7,291.2 L514.6,300.7 L515.6,310.2 L516.5,319.7 L517.4,328.7 L518.3,337.3 L519.2,345.2 L520.1,352.4 L521.1,358.9 L522.0,364.5 L522.9,365.4 L523.8,364.2 L524.7,364.7 L525.6,366.7 L526.6,369.4 L527.5,371.9 L528.4,373.4 L529.3,373.4 L530.2,371.8 L531.1,369.2 L532.1,366.5 L533.0,364.6 L533.9,364.3 L534.8,365.5 L535.7,367.9 L536.6,370.7 L537.6,372.8 L538.5,373.6 L539.4,372.8" stroke="#d4d4d4" stroke-width="1.7" fill="none" stroke-linejoin="round" stroke-opacity="0.92"/><path d="M475.2,377.3 L476.1,379.6 L477.0,381.6 L478.0,382.5 L478.9,381.9 L479.8,380.1 L480.7,377.7 L481.6,375.8 L482.5,375.1 L483.5,375.9 L484.4,377.9 L485.3,380.3 L486.2,382.0 L487.1,382.5 L488.0,381.5 L489.0,379.4 L489.9,377.1 L490.8,375.5 L491.7,375.2 L492.6,376.4 L493.5,378.6 L494.5,380.8 L495.4,381.5 L496.3,378.0 L497.2,373.4 L498.1,367.5 L499.0,360.2 L500.0,351.5 L500.9,341.3 L501.8,329.7 L502.7,317.2 L503.6,304.2 L504.5,291.2 L505.5,278.8 L506.4,267.9 L507.3,259.0 L508.2,252.8 L509.1,249.7 L510.1,249.9 L511.0,253.4 L511.9,260.0 L512.8,269.1 L513.7,280.2 L514.6,292.7 L515.6,305.8 L516.5,318.8 L517.4,331.2 L518.3,342.6 L519.2,352.6 L520.1,361.2 L521.1,368.3 L522.0,374.0 L522.9,378.5 L523.8,381.8 L524.7,382.8 L525.6,380.5 L526.6,379.0 L527.5,378.8 L528.4,380.2 L529.3,382.4 L530.2,384.6 L531.1,386.0 L532.1,385.9 L533.0,384.4 L533.9,382.1 L534.8,379.9 L535.7,378.8 L536.6,379.1 L537.6,380.7 L538.5,383.1 L539.4,385.1" stroke="#d4d4d4" stroke-width="1.7" fill="none" stroke-linejoin="round" stroke-opacity="0.92"/><path d="M475.2,377.9 L476.1,375.7 L477.0,373.9 L478.0,373.0 L478.9,373.5 L479.8,375.1 L480.7,377.3 L481.6,379.2 L482.5,380.1 L483.5,379.7 L484.4,378.2 L485.3,376.0 L486.2,374.1 L487.1,373.1 L488.0,373.4 L489.0,374.9 L489.9,377.0 L490.8,379.0 L491.7,376.3 L492.6,372.9 L493.5,368.8 L494.5,364.1 L495.4,358.6 L496.3,352.4 L497.2,345.5 L498.1,337.9 L499.0,329.7 L500.0,321.0 L500.9,311.9 L501.8,302.7 L502.7,293.6 L503.6,284.7 L504.5,276.3 L505.5,268.7 L506.4,262.1 L507.3,256.7 L508.2,252.7 L509.1,250.3 L510.1,249.4 L511.0,250.2 L511.9,252.6 L512.8,256.5 L513.7,261.9 L514.6,268.4 L515.6,276.0 L516.5,284.4 L517.4,293.2 L518.3,302.4 L519.2,311.6 L520.1,320.6 L521.1,329.3 L522.0,337.6 L522.9,345.2 L523.8,352.2 L524.7,358.4 L525.6,363.9 L526.6,366.9 L527.5,369.1 L528.4,370.7 L529.3,371.2 L530.2,370.4 L531.1,368.5 L532.1,366.3 L533.0,364.6 L533.9,364.1 L534.8,364.8 L535.7,366.7 L536.6,368.8 L537.6,370.6 L538.5,371.2 L539.4,370.5" stroke="#d4d4d4" stroke-width="1.7" fill="none" stroke-linejoin="round" stroke-opacity="0.92"/><path d="M475.2,385.6 L476.1,387.9 L477.0,389.3 L478.0,389.2 L478.9,389.1 L479.8,388.9 L480.7,386.7 L481.6,384.8 L482.5,384.3 L483.5,385.4 L484.4,386.5 L485.3,385.6 L486.2,384.4 L487.1,383.0 L488.0,381.2 L489.0,379.0 L489.9,376.4 L490.8,373.3 L491.7,369.7 L492.6,365.5 L493.5,360.8 L494.5,355.4 L495.4,349.4 L496.3,342.9 L497.2,335.8 L498.1,328.2 L499.0,320.2 L500.0,312.0 L500.9,303.6 L501.8,295.3 L502.7,287.1 L503.6,279.3 L504.5,272.1 L505.5,265.6 L506.4,260.0 L507.3,255.5 L508.2,252.2 L509.1,250.1 L510.1,249.4 L511.0,250.1 L511.9,252.1 L512.8,255.3 L513.7,259.8 L514.6,265.4 L515.6,271.8 L516.5,279.0 L517.4,286.8 L518.3,295.0 L519.2,303.3 L520.1,311.7 L521.1,319.9 L522.0,327.9 L522.9,335.5 L523.8,342.6 L524.7,349.2 L525.6,355.2 L526.6,360.6 L527.5,365.4 L528.4,369.6 L529.3,373.2 L530.2,376.3 L531.1,378.9 L532.1,381.1 L533.0,382.9 L533.9,384.0 L534.8,385.6 L535.7,386.5 L536.6,387.3 L537.6,387.8 L538.5,387.9 L539.4,385.5" stroke="#d4d4d4" stroke-width="1.7" fill="none" stroke-linejoin="round" stroke-opacity="0.92"/><path d="M475.2,377.4 L476.1,379.3 L477.0,381.6 L478.0,383.5 L478.9,384.5 L479.8,384.4 L480.7,383.2 L481.6,381.1 L482.5,378.9 L483.5,377.1 L484.4,376.1 L485.3,376.4 L486.2,377.8 L487.1,379.8 L488.0,381.8 L489.0,379.5 L489.9,376.5 L490.8,373.0 L491.7,368.8 L492.6,363.8 L493.5,358.0 L494.5,351.4 L495.4,344.1 L496.3,336.0 L497.2,327.3 L498.1,318.1 L499.0,308.5 L500.0,298.9 L500.9,289.5 L501.8,280.4 L502.7,272.1 L503.6,264.7 L504.5,258.6 L505.5,253.9 L506.4,250.8 L507.3,249.5 L508.2,249.9 L509.1,252.1 L510.1,256.1 L511.0,261.5 L511.9,268.3 L512.8,276.2 L513.7,285.0 L514.6,294.2 L515.6,303.8 L516.5,313.4 L517.4,322.8 L518.3,331.8 L519.2,340.2 L520.1,347.9 L521.1,354.9 L522.0,361.0 L522.9,366.4 L523.8,371.0 L524.7,374.9 L525.6,378.1 L526.6,377.2 L527.5,376.2 L528.4,376.4 L529.3,377.7 L530.2,379.8 L531.1,382.0 L532.1,383.8 L533.0,384.6 L533.9,384.3 L534.8,382.9 L535.7,380.8 L536.6,378.6 L537.6,376.9 L538.5,376.1 L539.4,376.6" stroke="#d4d4d4" stroke-width="1.7" fill="none" stroke-linejoin="round" stroke-opacity="0.92"/><path d="M475.2,374.6 L476.1,373.8 L477.0,372.6 L478.0,371.4 L478.9,370.6 L479.8,370.5 L480.7,371.0 L481.6,372.1 L482.5,373.3 L483.5,374.3 L484.4,374.9 L485.3,374.7 L486.2,373.9 L487.1,372.7 L488.0,371.5 L489.0,370.7 L489.9,370.5 L490.8,370.9 L491.7,366.9 L492.6,362.2 L493.5,357.0 L494.5,351.1 L495.4,344.6 L496.3,337.5 L497.2,330.0 L498.1,322.0 L499.0,313.7 L500.0,305.2 L500.9,296.7 L501.8,288.4 L502.7,280.4 L503.6,273.0 L504.5,266.3 L505.5,260.6 L506.4,255.9 L507.3,252.4 L508.2,250.2 L509.1,249.4 L510.1,250.0 L511.0,252.0 L511.9,255.3 L512.8,259.8 L513.7,265.4 L514.6,272.0 L515.6,279.3 L516.5,287.2 L517.4,295.5 L518.3,304.0 L519.2,312.4 L520.1,320.8 L521.1,328.8 L522.0,336.5 L522.9,343.6 L523.8,350.2 L524.7,356.2 L525.6,361.5 L526.6,366.2 L527.5,369.4 L528.4,368.2 L529.3,367.3 L530.2,367.0 L531.1,367.4 L532.1,368.3 L533.0,369.5 L533.9,370.6 L534.8,371.3 L535.7,371.3 L536.6,370.6 L537.6,369.5 L538.5,368.3 L539.4,367.3" stroke="#d4d4d4" stroke-width="1.7" fill="none" stroke-linejoin="round" stroke-opacity="0.92"/><path d="M475.2,375.5 L476.1,377.2 L477.0,378.3 L478.0,378.6 L478.9,378.1 L479.8,376.9 L480.7,375.2 L481.6,373.1 L482.5,371.0 L483.5,369.3 L484.4,368.1 L485.3,367.6 L486.2,368.0 L487.1,369.1 L488.0,370.7 L489.0,372.8 L489.9,374.8 L490.8,376.7 L491.7,373.5 L492.6,369.8 L493.5,365.6 L494.5,360.6 L495.4,355.1 L496.3,348.9 L497.2,342.0 L498.1,334.6 L499.0,326.7 L500.0,318.4 L500.9,309.9 L501.8,301.2 L502.7,292.7 L503.6,284.3 L504.5,276.5 L505.5,269.3 L506.4,263.0 L507.3,257.7 L508.2,253.6 L509.1,250.9 L510.1,249.5 L511.0,249.6 L511.9,251.2 L512.8,254.1 L513.7,258.4 L514.6,263.8 L515.6,270.3 L516.5,277.5 L517.4,285.5 L518.3,293.8 L519.2,302.4 L520.1,311.1 L521.1,319.6 L522.0,327.9 L522.9,335.7 L523.8,343.0 L524.7,349.8 L525.6,355.9 L526.6,361.4 L527.5,366.2 L528.4,370.4 L529.3,371.0 L530.2,370.6 L531.1,370.9 L532.1,371.9 L533.0,373.6 L533.9,375.6 L534.8,377.7 L535.7,379.5 L536.6,380.9 L537.6,381.5 L538.5,381.3 L539.4,380.4" stroke="#d4d4d4" stroke-width="1.7" fill="none" stroke-linejoin="round" stroke-opacity="0.92"/><path d="M475.2,384.8 L476.1,383.7 L477.0,383.2 L478.0,383.2 L478.9,383.8 L479.8,385.0 L480.7,386.5 L481.6,388.3 L482.5,388.6 L483.5,388.2 L484.4,387.6 L485.3,386.9 L486.2,385.8 L487.1,384.5 L488.0,382.8 L489.0,380.6 L489.9,377.8 L490.8,374.5 L491.7,370.4 L492.6,365.6 L493.5,359.9 L494.5,353.4 L495.4,346.1 L496.3,338.0 L497.2,329.2 L498.1,319.8 L499.0,310.1 L500.0,300.2 L500.9,290.5 L501.8,281.1 L502.7,272.5 L503.6,264.9 L504.5,258.6 L505.5,253.8 L506.4,250.7 L507.3,249.4 L508.2,250.1 L509.1,252.5 L510.1,256.8 L511.0,262.6 L511.9,269.8 L512.8,278.1 L513.7,287.3 L514.6,296.9 L515.6,306.8 L516.5,316.6 L517.4,326.1 L518.3,335.1 L519.2,343.4 L520.1,351.0 L521.1,357.8 L522.0,363.8 L522.9,368.9 L523.8,370.9 L524.7,369.1 L525.6,367.4 L526.6,365.8 L527.5,364.7 L528.4,364.0 L529.3,364.0 L530.2,364.5 L531.1,365.5 L532.1,367.0 L533.0,368.7 L533.9,370.5 L534.8,372.1 L535.7,373.4 L536.6,374.3 L537.6,374.6 L538.5,374.3 L539.4,373.4" stroke="#d4d4d4" stroke-width="1.7" fill="none" stroke-linejoin="round" stroke-opacity="0.92"/><path d="M475.2,381.6 L476.1,380.6 L477.0,380.0 L478.0,379.8 L478.9,380.1 L479.8,380.8 L480.7,381.8 L481.6,383.1 L482.5,384.4 L483.5,385.8 L484.4,387.0 L485.3,387.9 L486.2,387.1 L487.1,386.1 L488.0,384.7 L489.0,382.9 L489.9,380.5 L490.8,377.4 L491.7,373.7 L492.6,369.0 L493.5,363.5 L494.5,356.9 L495.4,349.4 L496.3,340.9 L497.2,331.6 L498.1,321.5 L499.0,311.0 L500.0,300.3 L500.9,289.7 L501.8,279.6 L502.7,270.5 L503.6,262.6 L504.5,256.3 L505.5,252.0 L506.4,249.7 L507.3,249.7 L508.2,251.8 L509.1,256.1 L510.1,262.3 L511.0,270.1 L511.9,279.2 L512.8,289.2 L513.7,299.8 L514.6,310.5 L515.6,321.0 L516.5,331.1 L517.4,340.5 L518.3,349.0 L519.2,356.6 L520.1,363.2 L521.1,368.8 L522.0,373.5 L522.9,375.7 L523.8,375.6 L524.7,375.1 L525.6,374.2 L526.6,373.1 L527.5,371.7 L528.4,370.3 L529.3,369.0 L530.2,367.9 L531.1,367.2 L532.1,366.9 L533.0,367.0 L533.9,367.5 L534.8,368.4 L535.7,369.6 L536.6,371.0 L537.6,372.4 L538.5,373.7 L539.4,374.7" stroke="#d4d4d4" stroke-width="1.7" fill="none" stroke-linejoin="round" stroke-opacity="0.92"/><path d="M475.2,377.8 L476.1,377.3 L477.0,378.3 L478.0,380.6 L478.9,383.7 L479.8,386.7 L480.7,388.9 L481.6,389.6 L482.5,389.2 L483.5,387.2 L484.4,384.3 L485.3,381.2 L486.2,378.7 L487.1,377.4 L488.0,377.6 L489.0,379.3 L489.9,382.1 L490.8,385.2 L491.7,387.9 L492.6,387.2 L493.5,385.9 L494.5,384.1 L495.4,381.5 L496.3,377.9 L497.2,373.3 L498.1,367.3 L499.0,359.8 L500.0,350.9 L500.9,340.4 L501.8,328.7 L502.7,315.9 L503.6,302.7 L504.5,289.6 L505.5,277.2 L506.4,266.4 L507.3,257.8 L508.2,252.1 L509.1,249.5 L510.1,250.4 L511.0,254.6 L511.9,261.8 L512.8,271.6 L513.7,283.3 L514.6,296.1 L515.6,309.4 L516.5,322.4 L517.4,334.7 L518.3,345.9 L519.2,355.6 L520.1,363.8 L521.1,362.9 L522.0,362.3 L522.9,363.3 L523.8,365.5 L524.7,368.6 L525.6,371.6 L526.6,373.9 L527.5,374.9 L528.4,374.3 L529.3,372.4 L530.2,369.5 L531.1,366.4 L532.1,363.8 L533.0,362.4 L533.9,362.6 L534.8,364.2 L535.7,367.0 L536.6,370.1 L537.6,372.8 L538.5,374.6 L539.4,374.8" stroke="#d4d4d4" stroke-width="1.7" fill="none" stroke-linejoin="round" stroke-opacity="0.92"/><path d="M477.0,385.2 C477.8,384.9 480.2,384.4 481.9,383.7 C483.7,382.9 486.0,382.2 487.6,380.7 C489.1,379.2 490.4,376.8 491.3,374.6 C492.3,372.5 492.6,371.5 493.2,367.9 C493.8,364.2 494.5,358.5 495.1,352.8 C495.7,347.2 496.2,341.9 497.0,334.0 C497.7,326.2 498.7,315.2 499.6,305.8 C500.5,296.4 501.4,285.1 502.2,277.6 C503.0,270.1 503.8,265.0 504.5,260.7 C505.2,256.4 505.9,253.5 506.4,251.7 C506.9,249.8 507.1,249.4 507.5,249.4 C507.9,249.4 508.4,249.8 509.0,251.7 C509.6,253.5 510.1,256.4 510.9,260.7 C511.6,265.0 512.7,270.1 513.5,277.6 C514.3,285.1 515.0,296.4 515.8,305.8 C516.6,315.2 517.7,326.2 518.4,334.0 C519.2,341.9 519.7,347.5 520.3,352.8 C520.8,358.2 521.2,363.0 521.8,366.0 C522.4,369.0 522.8,369.8 523.7,370.9 C524.5,371.9 525.7,372.3 527.1,372.4 C528.4,372.5 530.3,371.6 531.9,371.6 C533.6,371.7 536.3,372.6 537.2,372.8" stroke="#76b843" stroke-width="2.1" fill="none" stroke-linejoin="round" stroke-linecap="round"/><text x="464.5" y="393.5" font-size="12" text-anchor="end" fill="#222">0</text><text x="464.5" y="365.5" font-size="12" text-anchor="end" fill="#222">0.2</text><text x="464.5" y="337.4" font-size="12" text-anchor="end" fill="#222">0.4</text><text x="464.5" y="309.4" font-size="12" text-anchor="end" fill="#222">0.6</text><text x="464.5" y="281.3" font-size="12" text-anchor="end" fill="#222">0.8</text><text x="464.5" y="253.3" font-size="12" text-anchor="end" fill="#222">1</text><text x="474.70000000000005" y="407.4" font-size="12" text-anchor="middle" fill="#222">-0.35</text><text x="507.6" y="407.4" font-size="12" text-anchor="middle" fill="#222">0</text><text x="540.1999999999999" y="407.4" font-size="12" text-anchor="middle" fill="#222">0.35</text><text x="466.4" y="418.5" font-size="12" text-anchor="start" fill="#1a1a1a" textLength="77.6" lengthAdjust="spacingAndGlyphs">Distance (mm)</text><text x="462.5" y="219.8" font-size="12.5" text-anchor="start" fill="#76b843" textLength="89.8" lengthAdjust="spacingAndGlyphs">FWHM in X-axis:</text><text x="462.5" y="234.3" font-size="12.5" text-anchor="start" fill="#76b843" textLength="89.6" lengthAdjust="spacingAndGlyphs">169.0 ± 26.6 μm</text><text transform="translate(438.3,325) rotate(-90)" font-size="12.3" text-anchor="middle" fill="#1a1a1a" textLength="132" lengthAdjust="spacingAndGlyphs">Normalized temperature</text>
<path d="M602.5,246.6 L602.5,389.6 L668.5,389.6 M598.7,389.6 L602.5,389.6 M598.7,361.6 L602.5,361.6 M598.7,333.5 L602.5,333.5 M598.7,305.5 L602.5,305.5 M598.7,277.4 L602.5,277.4 M598.7,249.4 L602.5,249.4 M602.5,389.6 L602.5,393.40000000000003 M635.5,389.6 L635.5,393.40000000000003 M668.5,389.6 L668.5,393.40000000000003" stroke="#000" stroke-width="1.3" fill="none"/><path d="M602.5,373.2 L603.4,374.3 L604.4,374.9 L605.3,375.0 L606.3,374.5 L607.2,373.4 L608.2,372.2 L609.1,371.1 L610.0,370.5 L611.0,370.5 L611.9,371.2 L612.9,372.2 L613.8,373.5 L614.8,374.5 L615.7,375.0 L616.6,374.9 L617.6,374.2 L618.5,373.1 L619.5,371.9 L620.4,370.9 L621.4,367.9 L622.3,362.2 L623.2,355.6 L624.2,348.1 L625.1,339.7 L626.1,330.4 L627.0,320.5 L628.0,310.2 L628.9,299.7 L629.8,289.4 L630.8,279.6 L631.7,270.6 L632.7,262.9 L633.6,256.6 L634.6,252.2 L635.5,249.8 L636.4,249.5 L637.4,251.4 L638.3,255.2 L639.3,261.0 L640.2,268.3 L641.2,277.0 L642.1,286.6 L643.0,296.8 L644.0,307.3 L644.9,317.7 L645.9,327.7 L646.8,337.2 L647.8,345.8 L648.7,353.6 L649.6,360.5 L650.6,366.4 L651.5,371.4 L652.5,375.5 L653.4,378.9 L654.4,380.8 L655.3,380.9 L656.2,381.5 L657.2,382.6 L658.1,383.8 L659.1,384.8 L660.0,385.3 L661.0,385.2 L661.9,384.5 L662.8,383.4 L663.8,382.2 L664.7,381.2 L665.7,380.8 L666.6,381.0 L667.6,381.7 L668.5,382.9" stroke="#d4d4d4" stroke-width="1.7" fill="none" stroke-linejoin="round" stroke-opacity="0.92"/><path d="M602.5,372.9 L603.4,374.6 L604.4,376.4 L605.3,378.0 L606.3,379.4 L607.2,380.2 L608.2,380.5 L609.1,380.2 L610.0,379.3 L611.0,378.0 L611.9,376.3 L612.9,374.5 L613.8,372.8 L614.8,371.3 L615.7,370.3 L616.6,369.8 L617.6,369.9 L618.5,370.6 L619.5,371.8 L620.4,371.6 L621.4,366.8 L622.3,361.2 L623.2,354.7 L624.2,347.2 L625.1,339.0 L626.1,330.0 L627.0,320.4 L628.0,310.4 L628.9,300.2 L629.8,290.1 L630.8,280.6 L631.7,271.7 L632.7,264.0 L633.6,257.7 L634.6,253.1 L635.5,250.2 L636.4,249.4 L637.4,250.6 L638.3,253.7 L639.3,258.6 L640.2,265.2 L641.2,273.1 L642.1,282.1 L643.0,291.7 L644.0,301.8 L644.9,312.0 L645.9,321.9 L646.8,331.5 L647.8,340.4 L648.7,348.5 L649.6,355.8 L650.6,362.2 L651.5,367.7 L652.5,372.3 L653.4,376.2 L654.4,379.3 L655.3,381.8 L656.2,383.8 L657.2,385.4 L658.1,386.5 L659.1,387.4 L660.0,388.1 L661.0,388.5 L661.9,388.9 L662.8,389.1 L663.8,389.3 L664.7,389.4 L665.7,387.7 L666.6,386.0 L667.6,384.5 L668.5,383.5" stroke="#d4d4d4" stroke-width="1.7" fill="none" stroke-linejoin="round" stroke-opacity="0.92"/><path d="M602.5,373.1 L603.4,373.8 L604.4,373.8 L605.3,373.3 L606.3,372.3 L607.2,371.1 L608.2,370.1 L609.1,369.6 L610.0,369.7 L611.0,370.3 L611.9,371.4 L612.9,372.6 L613.8,373.5 L614.8,373.9 L615.7,373.6 L616.6,372.0 L617.6,367.7 L618.5,362.7 L619.5,357.0 L620.4,350.5 L621.4,343.3 L622.3,335.4 L623.2,327.0 L624.2,318.0 L625.1,308.8 L626.1,299.5 L627.0,290.3 L628.0,281.5 L628.9,273.3 L629.8,266.0 L630.8,259.7 L631.7,254.9 L632.7,251.5 L633.6,249.7 L634.6,249.6 L635.5,251.1 L636.4,254.3 L637.4,259.0 L638.3,265.0 L639.3,272.2 L640.2,280.3 L641.2,289.1 L642.1,298.2 L643.0,307.5 L644.0,316.8 L644.9,325.8 L645.9,334.3 L646.8,342.3 L647.8,349.6 L648.7,356.2 L649.6,362.0 L650.6,367.1 L651.5,371.5 L652.5,373.9 L653.4,374.0 L654.4,374.7 L655.3,375.8 L656.2,377.0 L657.2,377.9 L658.1,378.2 L659.1,378.0 L660.0,377.2 L661.0,376.1 L661.9,374.9 L662.8,374.1 L663.8,373.9 L664.7,374.3 L665.7,375.2 L666.6,376.4 L667.6,377.5 L668.5,378.1" stroke="#d4d4d4" stroke-width="1.7" fill="none" stroke-linejoin="round" stroke-opacity="0.92"/><path d="M602.5,388.6 L603.4,389.6 L604.4,389.6 L605.3,389.6 L606.3,389.6 L607.2,389.6 L608.2,389.6 L609.1,389.6 L610.0,389.6 L611.0,389.6 L611.9,388.5 L612.9,387.4 L613.8,386.4 L614.8,385.5 L615.7,385.0 L616.6,384.8 L617.6,385.0 L618.5,385.5 L619.5,386.3 L620.4,385.3 L621.4,383.1 L622.3,380.0 L623.2,375.9 L624.2,370.6 L625.1,363.7 L626.1,355.3 L627.0,345.4 L628.0,333.9 L628.9,321.3 L629.8,308.0 L630.8,294.4 L631.7,281.5 L632.7,269.8 L633.6,260.2 L634.6,253.4 L635.5,249.9 L636.4,249.8 L637.4,253.3 L638.3,260.0 L639.3,269.5 L640.2,281.1 L641.2,294.1 L642.1,307.6 L643.0,321.0 L644.0,333.6 L644.9,345.1 L645.9,355.1 L646.8,363.5 L647.8,370.4 L648.7,375.8 L649.6,379.9 L650.6,383.0 L651.5,385.0 L652.5,384.2 L653.4,383.6 L654.4,383.3 L655.3,383.3 L656.2,383.8 L657.2,384.5 L658.1,385.4 L659.1,386.5 L660.0,387.7 L661.0,388.8 L661.9,389.6 L662.8,389.6 L663.8,389.6 L664.7,389.6 L665.7,389.6 L666.6,389.4 L667.6,388.5 L668.5,387.4" stroke="#d4d4d4" stroke-width="1.7" fill="none" stroke-linejoin="round" stroke-opacity="0.92"/><path d="M602.5,377.2 L603.4,378.8 L604.4,380.9 L605.3,382.7 L606.3,383.7 L607.2,383.6 L608.2,382.4 L609.1,380.6 L610.0,378.6 L611.0,377.0 L611.9,376.5 L612.9,377.1 L613.8,378.6 L614.8,380.6 L615.7,382.5 L616.6,383.6 L617.6,383.7 L618.5,382.6 L619.5,380.3 L620.4,377.3 L621.4,373.6 L622.3,369.0 L623.2,363.5 L624.2,357.1 L625.1,349.8 L626.1,341.5 L627.0,332.3 L628.0,322.5 L628.9,312.1 L629.8,301.6 L630.8,291.2 L631.7,281.2 L632.7,272.0 L633.6,264.0 L634.6,257.5 L635.5,252.7 L636.4,250.0 L637.4,249.5 L638.3,251.0 L639.3,254.7 L640.2,260.2 L641.2,267.5 L642.1,276.1 L643.0,285.7 L644.0,295.9 L644.9,306.5 L645.9,316.9 L646.8,327.1 L647.8,336.6 L648.7,345.4 L649.6,353.3 L650.6,360.2 L651.5,366.2 L652.5,371.2 L653.4,375.4 L654.4,377.1 L655.3,378.3 L656.2,380.1 L657.2,382.1 L658.1,383.7 L659.1,384.3 L660.0,383.7 L661.0,382.2 L661.9,380.2 L662.8,378.3 L663.8,377.2 L664.7,377.1 L665.7,378.1 L666.6,379.9 L667.6,381.9 L668.5,383.5" stroke="#d4d4d4" stroke-width="1.7" fill="none" stroke-linejoin="round" stroke-opacity="0.92"/><path d="M602.5,369.3 L603.4,370.0 L604.4,371.0 L605.3,372.0 L606.3,373.0 L607.2,373.7 L608.2,374.0 L609.1,373.8 L610.0,373.2 L611.0,372.3 L611.9,371.3 L612.9,370.2 L613.8,369.4 L614.8,369.0 L615.7,369.0 L616.6,369.4 L617.6,370.2 L618.5,371.2 L619.5,372.3 L620.4,373.2 L621.4,373.8 L622.3,374.0 L623.2,373.7 L624.2,368.8 L625.1,362.7 L626.1,355.5 L627.0,347.2 L628.0,337.7 L628.9,327.4 L629.8,316.3 L630.8,304.8 L631.7,293.3 L632.7,282.3 L633.6,272.2 L634.6,263.5 L635.5,256.6 L636.4,251.9 L637.4,249.6 L638.3,249.9 L639.3,252.7 L640.2,257.9 L641.2,265.3 L642.1,274.3 L643.0,284.7 L644.0,295.8 L644.9,307.3 L645.9,318.8 L646.8,329.7 L647.8,339.9 L648.7,349.1 L649.6,357.2 L650.6,364.1 L651.5,370.0 L652.5,374.7 L653.4,377.9 L654.4,376.8 L655.3,376.0 L656.2,375.4 L657.2,375.3 L658.1,375.6 L659.1,376.4 L660.0,377.4 L661.0,378.4 L661.9,379.4 L662.8,380.1 L663.8,380.3 L664.7,380.2 L665.7,379.6 L666.6,378.7 L667.6,377.6 L668.5,376.6" stroke="#d4d4d4" stroke-width="1.7" fill="none" stroke-linejoin="round" stroke-opacity="0.92"/><path d="M602.5,370.0 L603.4,371.6 L604.4,374.1 L605.3,376.8 L606.3,379.3 L607.2,381.1 L608.2,381.7 L609.1,381.2 L610.0,379.4 L611.0,377.0 L611.9,374.2 L612.9,371.8 L613.8,370.1 L614.8,369.5 L615.7,370.2 L616.6,372.0 L617.6,374.5 L618.5,377.3 L619.5,374.6 L620.4,369.9 L621.4,364.1 L622.3,357.1 L623.2,349.1 L624.2,339.9 L625.1,329.8 L626.1,319.0 L627.0,307.6 L628.0,296.2 L628.9,285.1 L629.8,274.7 L630.8,265.7 L631.7,258.3 L632.7,253.0 L633.6,250.0 L634.6,249.5 L635.5,251.6 L636.4,256.1 L637.4,262.8 L638.3,271.3 L639.3,281.2 L640.2,292.1 L641.2,303.5 L642.1,314.9 L643.0,326.0 L644.0,336.4 L644.9,345.9 L645.9,354.3 L646.8,361.7 L647.8,367.9 L648.7,373.0 L649.6,377.2 L650.6,380.4 L651.5,381.2 L652.5,379.1 L653.4,378.0 L654.4,378.1 L655.3,379.4 L656.2,381.7 L657.2,384.4 L658.1,387.0 L659.1,389.0 L660.0,389.4 L661.0,389.5 L661.9,388.4 L662.8,386.1 L663.8,383.3 L664.7,380.7 L665.7,378.8 L666.6,377.9 L667.6,378.3 L668.5,379.8" stroke="#d4d4d4" stroke-width="1.7" fill="none" stroke-linejoin="round" stroke-opacity="0.92"/><path d="M602.5,388.0 L603.4,389.0 L604.4,388.7 L605.3,386.9 L606.3,384.6 L607.2,382.9 L608.2,382.5 L609.1,383.6 L610.0,384.9 L611.0,383.4 L611.9,381.7 L612.9,379.5 L613.8,376.9 L614.8,373.8 L615.7,370.2 L616.6,365.9 L617.6,361.0 L618.5,355.5 L619.5,349.3 L620.4,342.4 L621.4,335.0 L622.3,327.1 L623.2,318.8 L624.2,310.2 L625.1,301.5 L626.1,292.8 L627.0,284.4 L628.0,276.5 L628.9,269.3 L629.8,263.0 L630.8,257.7 L631.7,253.6 L632.7,250.8 L633.6,249.5 L634.6,249.7 L635.5,251.3 L636.4,254.3 L637.4,258.6 L638.3,264.1 L639.3,270.7 L640.2,278.0 L641.2,286.1 L642.1,294.5 L643.0,303.2 L644.0,311.9 L644.9,320.4 L645.9,328.7 L646.8,336.5 L647.8,343.8 L648.7,350.5 L649.6,356.6 L650.6,362.0 L651.5,366.8 L652.5,370.9 L653.4,374.5 L654.4,377.5 L655.3,380.0 L656.2,378.9 L657.2,376.8 L658.1,374.6 L659.1,373.5 L660.0,373.9 L661.0,375.7 L661.9,378.0 L662.8,379.7 L663.8,380.2 L664.7,379.1 L665.7,376.9 L666.6,374.8 L667.6,373.6 L668.5,373.9" stroke="#d4d4d4" stroke-width="1.7" fill="none" stroke-linejoin="round" stroke-opacity="0.92"/><path d="M602.5,380.9 L603.4,381.5 L604.4,381.1 L605.3,379.6 L606.3,377.3 L607.2,374.7 L608.2,372.2 L609.1,370.3 L610.0,369.3 L611.0,369.5 L611.9,370.8 L612.9,372.9 L613.8,375.5 L614.8,378.1 L615.7,380.1 L616.6,381.3 L617.6,381.5 L618.5,380.4 L619.5,378.5 L620.4,376.0 L621.4,373.4 L622.3,371.2 L623.2,369.7 L624.2,369.3 L625.1,363.4 L626.1,355.3 L627.0,345.7 L628.0,334.8 L628.9,322.7 L629.8,309.9 L630.8,296.9 L631.7,284.2 L632.7,272.6 L633.6,262.8 L634.6,255.4 L635.5,250.8 L636.4,249.4 L637.4,251.3 L638.3,256.4 L639.3,264.3 L640.2,274.4 L641.2,286.3 L642.1,299.0 L643.0,312.1 L644.0,324.8 L644.9,336.7 L645.9,347.4 L646.8,356.7 L647.8,364.6 L648.7,371.0 L649.6,376.1 L650.6,380.0 L651.5,379.7 L652.5,380.4 L653.4,382.1 L654.4,384.5 L655.3,387.1 L656.2,388.9 L657.2,389.2 L658.1,389.3 L659.1,389.5 L660.0,389.5 L661.0,387.8 L661.9,385.2 L662.8,382.7 L663.8,380.8 L664.7,379.8 L665.7,379.9 L666.6,381.1 L667.6,383.2 L668.5,385.8" stroke="#d4d4d4" stroke-width="1.7" fill="none" stroke-linejoin="round" stroke-opacity="0.92"/><path d="M602.5,386.6 L603.4,387.3 L604.4,387.2 L605.3,386.3 L606.3,385.0 L607.2,383.7 L608.2,382.9 L609.1,383.0 L610.0,383.8 L611.0,385.1 L611.9,384.1 L612.9,382.4 L613.8,380.3 L614.8,377.8 L615.7,374.7 L616.6,371.0 L617.6,366.7 L618.5,361.8 L619.5,356.1 L620.4,349.7 L621.4,342.6 L622.3,334.9 L623.2,326.6 L624.2,317.9 L625.1,309.0 L626.1,299.9 L627.0,291.0 L628.0,282.4 L628.9,274.3 L629.8,267.1 L630.8,260.8 L631.7,255.8 L632.7,252.2 L633.6,250.0 L634.6,249.4 L635.5,250.4 L636.4,253.0 L637.4,257.0 L638.3,262.3 L639.3,268.8 L640.2,276.3 L641.2,284.5 L642.1,293.3 L643.0,302.2 L644.0,311.3 L644.9,320.2 L645.9,328.8 L646.8,336.9 L647.8,344.5 L648.7,351.4 L649.6,357.6 L650.6,363.1 L651.5,367.9 L652.5,372.0 L653.4,375.6 L654.4,378.5 L655.3,380.9 L656.2,382.9 L657.2,384.5 L658.1,385.7 L659.1,386.7 L660.0,387.5 L661.0,388.0 L661.9,388.5 L662.8,388.8 L663.8,388.0 L664.7,386.7 L665.7,386.0 L666.6,386.1 L667.6,386.9 L668.5,388.3" stroke="#d4d4d4" stroke-width="1.7" fill="none" stroke-linejoin="round" stroke-opacity="0.92"/><path d="M602.5,385.8 L603.4,384.8 L604.4,384.2 L605.3,384.2 L606.3,384.8 L607.2,385.7 L608.2,386.8 L609.1,387.7 L610.0,388.1 L611.0,387.9 L611.9,387.2 L612.9,386.1 L613.8,385.1 L614.8,384.3 L615.7,383.1 L616.6,381.0 L617.6,378.3 L618.5,375.0 L619.5,371.0 L620.4,366.3 L621.4,360.7 L622.3,354.2 L623.2,347.0 L624.2,338.9 L625.1,330.1 L626.1,320.7 L627.0,310.9 L628.0,301.0 L628.9,291.2 L629.8,281.7 L630.8,273.0 L631.7,265.3 L632.7,258.8 L633.6,253.9 L634.6,250.8 L635.5,249.4 L636.4,250.0 L637.4,252.5 L638.3,256.8 L639.3,262.7 L640.2,269.9 L641.2,278.3 L642.1,287.5 L643.0,297.2 L644.0,307.2 L644.9,317.0 L645.9,326.6 L646.8,335.6 L647.8,344.0 L648.7,351.6 L649.6,358.3 L650.6,364.2 L651.5,369.3 L652.5,373.6 L653.4,377.1 L654.4,380.0 L655.3,379.4 L656.2,378.4 L657.2,377.6 L658.1,377.4 L659.1,377.7 L660.0,378.6 L661.0,379.7 L661.9,380.6 L662.8,381.2 L663.8,381.2 L664.7,380.7 L665.7,379.7 L666.6,378.6 L667.6,377.8 L668.5,377.4" stroke="#d4d4d4" stroke-width="1.7" fill="none" stroke-linejoin="round" stroke-opacity="0.92"/><path d="M602.5,383.1 L603.4,385.4 L604.4,387.7 L605.3,389.4 L606.3,389.5 L607.2,389.4 L608.2,389.2 L609.1,387.3 L610.0,385.0 L611.0,382.6 L611.9,380.6 L612.9,379.3 L613.8,378.9 L614.8,379.6 L615.7,381.1 L616.6,382.0 L617.6,379.4 L618.5,376.2 L619.5,372.1 L620.4,367.2 L621.4,361.3 L622.3,354.4 L623.2,346.6 L624.2,337.9 L625.1,328.3 L626.1,318.2 L627.0,307.6 L628.0,296.9 L628.9,286.5 L629.8,276.8 L630.8,268.0 L631.7,260.6 L632.7,254.9 L633.6,251.1 L634.6,249.5 L635.5,250.0 L636.4,252.7 L637.4,257.5 L638.3,264.1 L639.3,272.2 L640.2,281.5 L641.2,291.7 L642.1,302.2 L643.0,312.9 L644.0,323.3 L644.9,333.2 L645.9,342.3 L646.8,350.6 L647.8,358.0 L648.7,364.3 L649.6,369.7 L650.6,374.2 L651.5,377.9 L652.5,375.6 L653.4,373.3 L654.4,371.4 L655.3,370.4 L656.2,370.3 L657.2,371.3 L658.1,373.0 L659.1,375.3 L660.0,377.7 L661.0,379.8 L661.9,381.2 L662.8,381.7 L663.8,381.2 L664.7,379.8 L665.7,377.7 L666.6,375.4 L667.6,373.1 L668.5,371.3" stroke="#d4d4d4" stroke-width="1.7" fill="none" stroke-linejoin="round" stroke-opacity="0.92"/><path d="M604.0,382.9 C605.0,382.9 608.3,383.4 610.1,382.9 C611.8,382.4 613.2,381.7 614.6,379.9 C615.9,378.1 617.2,375.6 618.3,372.4 C619.5,369.1 620.4,365.2 621.3,360.3 C622.3,355.5 623.1,350.0 624.0,343.4 C624.8,336.8 625.8,328.7 626.6,320.9 C627.4,313.0 628.1,304.2 628.9,296.4 C629.6,288.6 630.4,280.4 631.1,273.8 C631.9,267.3 632.7,260.7 633.4,256.9 C634.0,253.1 634.4,252.2 634.9,250.9 C635.3,249.7 635.6,249.4 636.0,249.4 C636.4,249.4 636.7,249.7 637.1,250.9 C637.6,252.2 638.0,253.1 638.6,256.9 C639.3,260.7 640.1,267.3 640.9,273.8 C641.6,280.4 642.4,288.6 643.1,296.4 C643.9,304.2 644.7,313.3 645.4,320.9 C646.2,328.4 646.8,335.3 647.7,341.5 C648.5,347.8 649.4,353.8 650.3,358.5 C651.2,363.2 652.0,366.6 653.3,369.7 C654.6,372.9 656.2,375.2 657.8,377.3 C659.4,379.3 661.3,381.0 662.7,382.2 C664.1,383.3 665.8,383.7 666.5,384.0" stroke="#ee7d31" stroke-width="2.1" fill="none" stroke-linejoin="round" stroke-linecap="round"/><text x="591.9" y="393.5" font-size="12" text-anchor="end" fill="#222">0</text><text x="591.9" y="365.5" font-size="12" text-anchor="end" fill="#222">0.2</text><text x="591.9" y="337.4" font-size="12" text-anchor="end" fill="#222">0.4</text><text x="591.9" y="309.4" font-size="12" text-anchor="end" fill="#222">0.6</text><text x="591.9" y="281.3" font-size="12" text-anchor="end" fill="#222">0.8</text><text x="591.9" y="253.3" font-size="12" text-anchor="end" fill="#222">1</text><text x="602.1" y="407.4" font-size="12" text-anchor="middle" fill="#222">-0.35</text><text x="635.8" y="407.4" font-size="12" text-anchor="middle" fill="#222">0</text><text x="669.3" y="407.4" font-size="12" text-anchor="middle" fill="#222">0.35</text><text x="596" y="418.5" font-size="12" text-anchor="start" fill="#1a1a1a" textLength="77.6" lengthAdjust="spacingAndGlyphs">Distance (mm)</text><text x="585.3" y="219.8" font-size="12.5" text-anchor="start" fill="#ee7d31" textLength="89.8" lengthAdjust="spacingAndGlyphs">FWHM in Y-axis:</text><text x="585.3" y="234.3" font-size="12.5" text-anchor="start" fill="#ee7d31" textLength="89.6" lengthAdjust="spacingAndGlyphs">174.9 ± 21.1 μm</text><text transform="translate(567.3,325) rotate(-90)" font-size="12.3" text-anchor="middle" fill="#1a1a1a" textLength="132" lengthAdjust="spacingAndGlyphs">Normalized temperature</text>
</g>
</svg>
</body></html>
